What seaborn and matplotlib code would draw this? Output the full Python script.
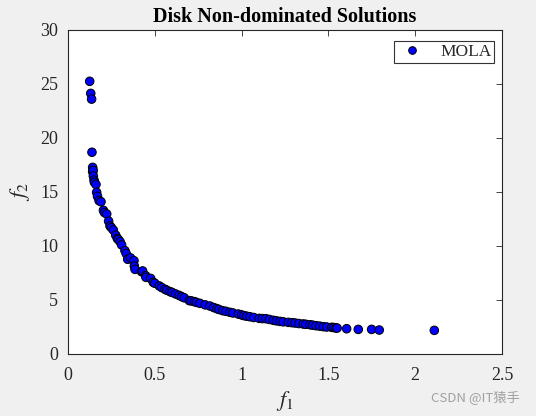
import matplotlib
matplotlib.use("Agg")
import matplotlib.pyplot as plt
import seaborn as sns
import pandas as pd

f1 = [0.125, 0.131, 0.136, 0.138, 0.142, 0.142, 0.145, 0.146, 0.150, 0.152, 0.161, 0.165,
      0.170, 0.179, 0.190, 0.204, 0.210, 0.223, 0.234, 0.242, 0.250, 0.261, 0.275, 0.284,
      0.290, 0.300, 0.309, 0.328, 0.335, 0.344, 0.360, 0.380, 0.382, 0.386, 0.424, 0.430,
      0.447, 0.449, 0.476, 0.491, 0.500, 0.526, 0.540, 0.559, 0.570, 0.588, 0.600, 0.620,
      0.640, 0.655, 0.670, 0.699, 0.710, 0.728, 0.740, 0.760, 0.790, 0.818, 0.840, 0.857,
      0.870, 0.891, 0.910, 0.933, 0.950, 0.981, 1.000, 1.014, 1.030, 1.048, 1.070, 1.102,
      1.120, 1.140, 1.160, 1.183, 1.200, 1.221, 1.240, 1.269, 1.290, 1.308, 1.330, 1.355,
      1.370, 1.394, 1.410, 1.429, 1.450, 1.471, 1.490, 1.519, 1.530, 1.544, 1.550, 1.605,
      1.672, 1.749, 1.793, 2.110]
f2 = [25.25, 24.13, 23.60, 18.68, 17.28, 16.88, 17.00, 16.48, 16.10, 15.90, 15.70, 14.97,
      14.60, 14.20, 14.10, 13.30, 13.10, 12.96, 12.30, 11.85, 11.70, 11.48, 11.00, 10.70,
      10.60, 10.40, 10.10, 9.57, 9.30, 8.77, 8.90, 8.64, 8.15, 7.84, 7.62, 7.69,
      7.25, 7.10, 7.00, 6.64, 6.55, 6.30, 6.15, 5.99, 5.90, 5.77, 5.70, 5.56,
      5.43, 5.31, 5.20, 4.94, 4.92, 4.85, 4.78, 4.69, 4.55, 4.44, 4.30, 4.20,
      4.12, 4.01, 3.95, 3.86, 3.80, 3.70, 3.62, 3.55, 3.50, 3.45, 3.38, 3.30,
      3.28, 3.27, 3.20, 3.12, 3.07, 3.02, 2.98, 2.93, 2.90, 2.87, 2.82, 2.78,
      2.75, 2.71, 2.67, 2.62, 2.58, 2.53, 2.50, 2.47, 2.45, 2.41, 2.40, 2.34,
      2.28, 2.28, 2.22, 2.19]

xticks = [0, 0.5, 1, 1.5, 2, 2.5]
yticks = [0, 5, 10, 15, 20, 25, 30]
series_name = "MOLA"

df = pd.DataFrame({"f1": f1, "f2": f2, "series": series_name})

sns.set_style("white")
plt.rcParams["font.family"] = ["Liberation Serif", "DejaVu Serif"]
plt.rcParams["mathtext.fontset"] = "stix"

fig = plt.figure(figsize=(5.36, 4.16), dpi=100, facecolor="#f0f0f0")
ax = fig.add_axes([68 / 536, 62 / 416, 434 / 536, 324 / 416])
ax.set_facecolor("white")

sns.scatterplot(data=df, x="f1", y="f2", hue="series", palette=["#0000ff"],
                s=38, edgecolor="black", linewidth=0.7, ax=ax, zorder=3)

ax.set_xlim(0, 2.5)
ax.set_ylim(0, 30)
ax.set_xticks(xticks)
ax.set_xticklabels([f"{t:g}" for t in xticks])
ax.set_yticks(yticks)
ax.set_yticklabels([f"{t:g}" for t in yticks])
ax.tick_params(direction="in", length=4, width=0.6, top=True, right=True,
               labelsize=13, colors="#262626")
ax.tick_params(axis="x", pad=9)
ax.tick_params(axis="y", pad=7)
for sp in ax.spines.values():
    sp.set_visible(True)
    sp.set_color("#262626")
    sp.set_linewidth(0.8)

ax.set_xlabel(r"$f_{\mathit{1}}$", fontsize=16, color="#262626", labelpad=4)
ax.set_ylabel(r"$f_{\mathit{2}}$", fontsize=16, color="#262626", labelpad=6)
ax.set_title("Disk Non-dominated Solutions", fontsize=14.5, fontweight="bold",
             color="black", pad=6)

leg = ax.legend(loc="upper right", fontsize=12.5, frameon=True, fancybox=False,
                bbox_to_anchor=(0.982, 0.965), borderaxespad=0.0,
                handletextpad=0.8, borderpad=0.15, handlelength=1.7)
leg.get_frame().set_edgecolor("black")
leg.get_frame().set_linewidth(0.8)
for h in leg.legend_handles:
    if hasattr(h, "set_markersize"):
        h.set_markersize(5.5)

fig.text(520 / 536, 1 - 398 / 416, "CSDN @IT猿手", ha="right", va="center",
         fontsize=9.5, color="#a0a0a0", family=["Noto Sans CJK SC", "DejaVu Sans"])

fig.savefig("out.png", dpi=100, facecolor=fig.get_facecolor())
